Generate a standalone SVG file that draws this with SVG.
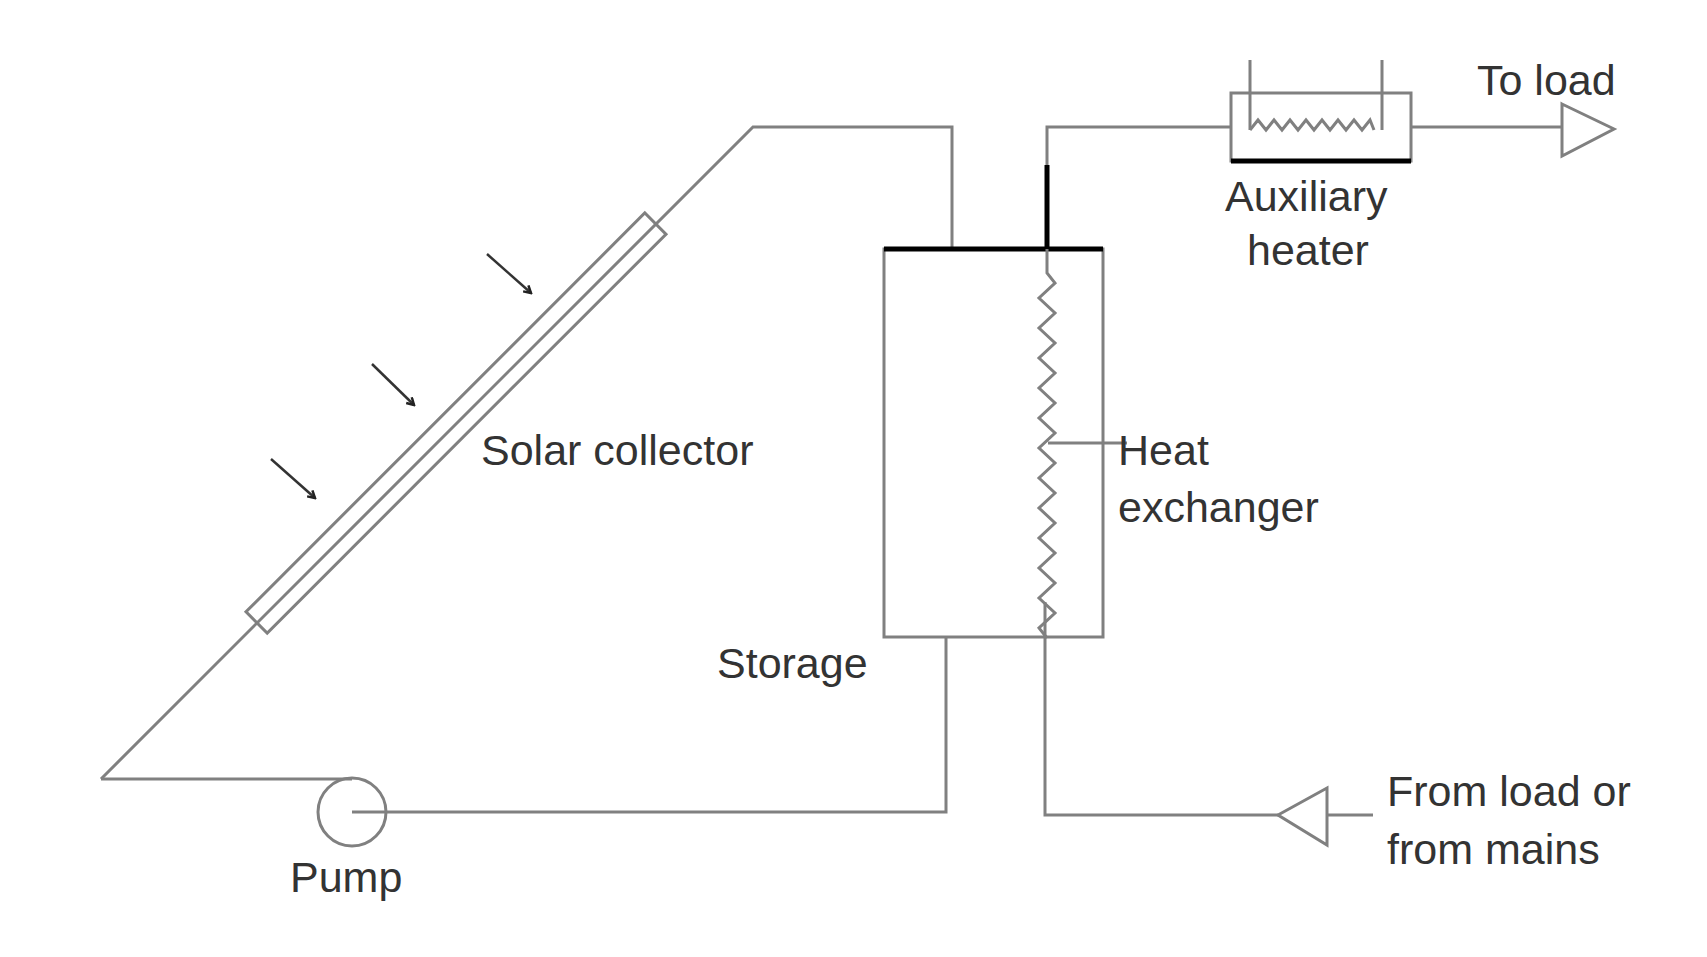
<svg xmlns="http://www.w3.org/2000/svg" width="1707" height="957" viewBox="0 0 1707 957">
<style>
.p{fill:none;stroke:#808080;stroke-width:3}
.k{fill:none;stroke:#000;stroke-width:5}
text{font-family:"Liberation Sans",Arial,sans-serif;font-size:43px;fill:#333}
</style>
<defs><marker id="ah" markerWidth="10" markerHeight="10" refX="8" refY="5" orient="auto" markerUnits="userSpaceOnUse"><path d="M1,1 L8,5 L1,9" fill="none" stroke="#222" stroke-width="2.5"/></marker></defs>
<rect width="1707" height="957" fill="#fff"/>
<g id="connectors">
<path class="p" d="M101,779 L753,127 L952,127 L952,249"/>
<path class="p" d="M101,779 L352,779"/>
<path class="p" d="M946,637 L946,812 L352,812"/>
<path class="p" d="M1047,249 L1047,127 L1231,127"/>
<path class="k" d="M1047,165 L1047,249" stroke-width="4"/>
<path class="p" d="M1045,602 L1045,815 L1278,815"/>
<path class="p" d="M1327,815 L1373,815"/>
<path class="p" d="M1411,127 L1562,127"/>
<path class="p" d="M1048,443 L1127,443"/>
</g>
<g id="collector">
<rect x="-282" y="-15" width="564" height="30" transform="translate(456,423) rotate(-45)" class="p" fill="#fff"/>
<path d="M487,254 L531,293" stroke="#333" stroke-width="2.5" marker-end="url(#ah)"/>
<path d="M372,364 L414,405" stroke="#333" stroke-width="2.5" marker-end="url(#ah)"/>
<path d="M271,459 L315,498" stroke="#333" stroke-width="2.5" marker-end="url(#ah)"/>
<text x="481" y="465">Solar collector</text>
</g>
<g id="storage">
<rect x="884" y="249" width="219" height="388" class="p"/>
<line x1="884" y1="249" x2="1103" y2="249" class="k"/>
<text x="717" y="678">Storage</text>
</g>
<g id="hx">
<path class="p" d="M1047,249 L1047,273 l8,10 l-16,15 l16,15 l-16,15 l16,15 l-16,15 l16,15 l-16,15 l16,15 l-16,15 l16,15 l-16,15 l16,15 l-16,15 l16,15 l-16,15 l16,15 l-16,15 l16,15 l-16,15 l16,15 l-16,15 l16,15 l-16,15 l8,10" stroke-width="2.5"/>
<text x="1118" y="465">Heat</text>
<text x="1118" y="522">exchanger</text>
</g>
<g id="pump">
<circle cx="352" cy="812" r="34" class="p" fill="none"/>
<text x="290" y="892">Pump</text>
</g>
<g id="aux">
<rect x="1231" y="93" width="180" height="68" class="p"/>
<line x1="1231" y1="161" x2="1411" y2="161" class="k"/>
<path class="p" d="M1250,60 L1250,130 M1382,60 L1382,130" />
<path class="p" stroke-width="2" d="M1250,130 l8,-10 l8,10 l8,-10 l8,10 l8,-10 l8,10 l8,-10 l8,10 l8,-10 l8,10 l8,-10 l8,10 l8,-10 l8,10 l8,-10 l4,10"/>
<text x="1225" y="211">Auxiliary</text>
<text x="1247" y="265">heater</text>
</g>
<g id="toload">
<path class="p" d="M1562,104 L1614,129 L1562,156 Z"/>
<text x="1477" y="95">To load</text>
</g>
<g id="fromload">
<path class="p" d="M1327,788 L1278,815 L1327,845 Z"/>
<text x="1387" y="806">From load or</text>
<text x="1387" y="864">from mains</text>
</g>
</svg>
